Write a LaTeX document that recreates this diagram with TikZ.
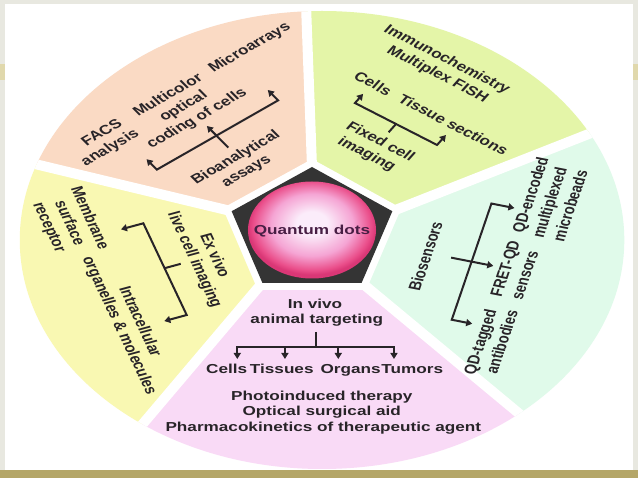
\documentclass[tikz,border=0pt]{standalone}
\usepackage{fontspec}
\setmainfont{Liberation Sans}
\usetikzlibrary{arrows.meta}
\definecolor{peach}{RGB}{250,218,196}
\definecolor{lgreen}{RGB}{228,245,168}
\definecolor{mint}{RGB}{224,250,234}
\definecolor{lpink}{RGB}{249,218,246}
\definecolor{lyellow}{RGB}{249,248,178}
\definecolor{txt}{RGB}{40,36,40}
\definecolor{pent}{RGB}{52,52,52}
\definecolor{qdw}{RGB}{251,236,250}
\definecolor{qdmid}{RGB}{245,165,212}
\definecolor{qdout}{RGB}{234,78,138}
\definecolor{qdedge}{RGB}{218,55,118}
\definecolor{qdtext}{RGB}{72,30,68}
\definecolor{framec}{RGB}{232,232,224}
\definecolor{olive}{RGB}{180,166,104}
\definecolor{beige}{RGB}{224,216,172}
\pgfdeclareradialshading{qdball}{\pgfpoint{0bp}{4bp}}{color(0bp)=(qdw); color(6bp)=(qdw); color(16bp)=(qdmid); color(23bp)=(qdout); color(25bp)=(qdedge); color(50bp)=(qdedge)}
\begin{document}
\begin{tikzpicture}[x=1pt,y=1pt,
  lbl/.style={font=\fontsize{13}{15}\selectfont\bfseries, text=txt, inner sep=0pt, text height=9.4pt, text depth=2.8pt},
  brk/.style={draw=txt, line width=2pt, line join=miter},
  arrone/.style={-{Triangle[length=6pt,width=7pt]}},
  arrtwo/.style={{Triangle[length=6pt,width=7pt]}-{Triangle[length=6pt,width=7pt]}},
  gapline/.style={draw=white, line width=10pt}
]
\useasboundingbox (0,0) rectangle (638,-478);
\fill[framec] (0,0) rectangle (638,-478);
\fill[white] (5,-4) rectangle (633,-470);
\fill[beige] (0,-64) rectangle (5,-80);
\fill[beige] (633,-64) rectangle (638,-80);
\fill[olive] (0,-470) rectangle (638,-478);

\begin{scope}[shift={(312,-231)}, xscale=1.32, transform shape]
  \coordinate (O) at (0,0);
  \coordinate (v1) at (90:64);
  \coordinate (v2) at (162:64);
  \coordinate (v3) at (234:64);
  \coordinate (v4) at (306:64);
  \coordinate (v5) at (18:64);
  \coordinate (f1) at (-8.4,364);
  \coordinate (f2) at (327,158);
  \coordinate (f3) at (239.8,-273.5);
  \coordinate (f4) at (-199.6,-304.2);
  \coordinate (f5) at (-345.6,110);
  \begin{scope}
    \clip (7.6,-9) circle (229);
    \fill[peach] (v1) -- (f1) -- (f5) -- (v2) -- (O) -- cycle;
    \fill[lgreen] (v5) -- (f2) -- (f1) -- (v1) -- (O) -- cycle;
    \fill[mint] (v4) -- (f3) -- (f2) -- (v5) -- (O) -- cycle;
    \fill[lpink] (v3) -- (f4) -- (f3) -- (v4) -- (O) -- cycle;
    \fill[lyellow] (v2) -- (f5) -- (f4) -- (v3) -- (O) -- cycle;
    \draw[gapline] (v1) -- (f1);
    \draw[gapline] (v5) -- (f2);
    \draw[gapline] (v4) -- (f3);
    \draw[gapline] (v3) -- (f4);
    \draw[gapline] (v2) -- (f5);
  \end{scope}
  \filldraw[white, line width=14pt, line join=round] (v1) -- (v2) -- (v3) -- (v4) -- (v5) -- cycle;
  \fill[pent] (v1) -- (v2) -- (v3) -- (v4) -- (v5) -- cycle;
  \shade[shading=qdball] (0,1) circle (48.5);
  \node[lbl, text=qdtext] (qd) at (0,0) {Quantum dots};

  % peach segment
  \begin{scope}[shift={(-71.6,96)}, rotate=37]
    \node[lbl] (facs) at (-68.6,54) {FACS};
    \node[lbl] (anal) at (-72.8,38.3) {analysis};
    \node[lbl] (multi) at (-5.9,54) {Multicolor};
    \node[lbl] (opt) at (-3.4,38) {optical};
    \node[lbl] (cod) at (-2.7,22.1) {coding of cells};
    \node[lbl] (micro) at (72,54.7) {Microarrays};
    \node[lbl] (bio) at (-2.6,-26.8) {Bioanalytical};
    \node[lbl] (assays) at (-4.5,-42.5) {assays};
    \coordinate (pl) at (-57.5,0);
    \coordinate (pr) at (57.5,0);
    \coordinate (plt) at (-57.5,13);
    \coordinate (prt) at (57.5,13);
    \coordinate (ps) at (-1,-15);
    \coordinate (pst) at (-1,12);
    \draw[brk, arrtwo] (plt) -- (pl) -- (pr) -- (prt);
    \draw[brk, arrone] (ps) -- (pst);
  \end{scope}

  % green segment
  \begin{scope}[shift={(63.65,107)}, rotate=-34]
    \node[lbl] (immu) at (-4,74.5) {Immunochemistry};
    \node[lbl] (mfish) at (-1.7,58.5) {Multiplex FISH};
    \node[lbl] (gcells) at (-37,22.5) {Cells};
    \node[lbl] (tissue) at (36.4,22.5) {Tissue sections};
    \node[lbl] (fixed) at (0,-21.7) {Fixed cell};
    \node[lbl] (imgg) at (-1.6,-37.7) {imaging};
    \coordinate (gl) at (-37.5,0);
    \coordinate (gr) at (37.5,0);
    \coordinate (glt) at (-37.5,11);
    \coordinate (grt) at (37.5,12);
    \coordinate (gm) at (0,0);
    \coordinate (gmb) at (0,-10);
    \draw[brk, arrtwo] (glt) -- (gl) -- (gr) -- (grt);
    \draw[brk] (gm) -- (gmb);
  \end{scope}

  % mint segment
  \begin{scope}[shift={(120.9,-30.65)}, rotate=75.5]
    \node[lbl] (bios) at (-3.6,33.8) {Biosensors};
    \node[lbl] (qdt) at (-76,-27.5) {QD-tagged};
    \node[lbl] (fret) at (-0.3,-27.5) {FRET-QD};
    \node[lbl] (qde) at (76,-27.5) {QD-encoded};
    \node[lbl] (antib) at (-72,-43.5) {antibodies};
    \node[lbl] (sens) at (-3,-43.5) {sensors};
    \node[lbl] (multp) at (72,-43.5) {multiplexed};
    \node[lbl] (mbead) at (73,-59.5) {microbeads};
    \coordinate (mt) at (60,0);
    \coordinate (mb) at (-60,0);
    \coordinate (mtt) at (60,-18);
    \coordinate (mbt) at (-60,-16);
    \coordinate (ms) at (0,16);
    \coordinate (mst) at (0,-17);
    \draw[brk, arrtwo] (mbt) -- (mb) -- (mt) -- (mtt);
    \draw[brk, arrone] (ms) -- (mst);
  \end{scope}

  % yellow segment
  \begin{scope}[shift={(-111.35,-38.15)}, rotate=-70.3]
    \node[lbl] (memb) at (-67.3,-37) {Membrane};
    \node[lbl] (surf) at (-67.8,-53) {surface};
    \node[lbl] (recep) at (-69,-69) {receptor};
    \node[lbl] (exv) at (0,39.4) {Ex vivo};
    \node[lbl] (live) at (-1.2,23.8) {live cell imaging};
    \node[lbl] (intra) at (43,-36) {Intracellular};
    \node[lbl] (organ) at (41.5,-52) {organelles \& molecules};
    \coordinate (yt) at (-48.7,0);
    \coordinate (yb) at (48.7,0);
    \coordinate (ytt) at (-48.7,-18);
    \coordinate (ybt) at (48.7,-18);
    \coordinate (ym) at (-1,0);
    \coordinate (ymt) at (-1,13);
    \draw[brk, arrtwo] (ytt) -- (yt) -- (yb) -- (ybt);
    \draw[brk] (ym) -- (ymt);
  \end{scope}

  % pink segment
  \node[lbl] (inv) at (2.3,-74) {In vivo};
  \node[lbl] (anim) at (3.6,-89.7) {animal targeting};
  \coordinate (ks) at (2.8,-101);
  \coordinate (kb) at (2.8,-115.7);
  \coordinate (kl) at (-56.6,-115.7);
  \coordinate (kr) at (62.1,-115.7);
  \coordinate (k2) at (-20.5,-115.7);
  \coordinate (k3) at (19.9,-115.7);
  \coordinate (k1t) at (-56.6,-128);
  \coordinate (k2t) at (-20.5,-128);
  \coordinate (k3t) at (19.9,-128);
  \coordinate (k4t) at (62.1,-128);
  \draw[brk] (ks) -- (kb);
  \draw[brk, arrtwo] (k1t) -- (kl) -- (kr) -- (k4t);
  \draw[brk, arrone] (k2) -- (k2t);
  \draw[brk, arrone] (k3) -- (k3t);
  \node[lbl] (kcells) at (-64.6,-139) {Cells};
  \node[lbl] (ktiss) at (-22.9,-139) {Tissues};
  \node[lbl] (korg) at (29.3,-139) {Organs};
  \node[lbl] (ktum) at (76,-139) {Tumors};
  \node[lbl] (photo) at (7.4,-166.3) {Photoinduced therapy};
  \node[lbl] (optsurg) at (7.4,-181.7) {Optical surgical aid};
  \node[lbl] (pharma) at (8.6,-197.3) {Pharmacokinetics of therapeutic agent};
\end{scope}
\end{tikzpicture}
\end{document}
